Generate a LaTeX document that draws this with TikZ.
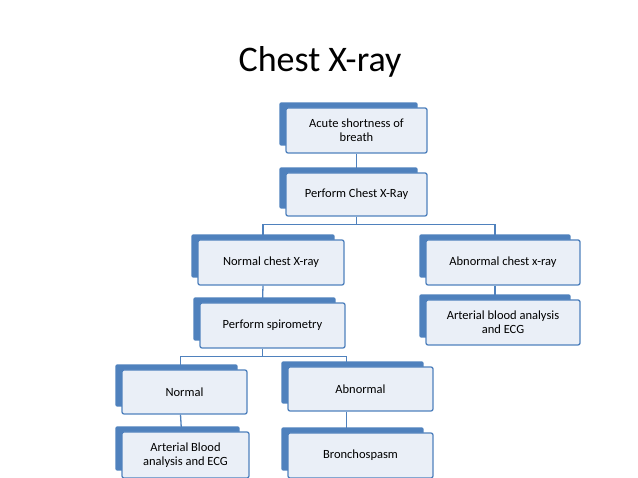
\documentclass[tikz,border=0pt]{standalone}
\usepackage{fontspec}
\setmainfont{Carlito}
\usetikzlibrary{backgrounds,calc}
\definecolor{bl}{HTML}{4F81BD}
\definecolor{lt}{HTML}{EAEFF7}
\tikzset{
 front/.style={draw=bl,line width=1.3pt,fill=lt,rounded corners=2pt,align=center,font=\fontsize{12.5}{14}\selectfont,inner sep=0pt},
 conn/.style={draw=bl,line width=1.3pt},
}
\newcommand{\bxx}[6]{%
 \node[front,minimum width=#4pt-#2pt,minimum height=#5pt-#3pt] (#1) at ({(#2+#4)/2},{(#3+#5)/2}) {#6};
 \begin{scope}[on background layer]
 \fill[bl,rounded corners=2pt] ($(#1.south west)+(-6pt,8pt)$) rectangle ($(#1.north east)+(-10pt,5pt)$);
 \end{scope}}
\begin{document}
\begin{tikzpicture}[x=1pt,y=-1pt]
\useasboundingbox (0,0) rectangle (638,478);
\node[font=\fontsize{36}{40}\selectfont] (title) at (320,62) {Chest X-ray};
\bxx{a}{286}{108}{427}{153}{Acute shortness of\\breath}
\bxx{b}{286}{173}{427}{216}{Perform Chest X-Ray}
\bxx{c}{198}{240}{344}{285}{Normal chest X-ray}
\bxx{d}{426}{240}{580}{285}{Abnormal chest x-ray}
\bxx{e}{200}{303}{345}{348}{Perform spirometry}
\bxx{f}{426}{300}{580}{345}{Arterial blood analysis\\and ECG}
\bxx{g}{122}{370}{247}{414}{Normal}
\bxx{h}{288}{367}{433}{411}{Abnormal}
\bxx{i}{122}{432}{249}{478}{Arterial Blood\\analysis and ECG}
\bxx{j}{288}{433}{433}{478}{Bronchospasm}
\begin{scope}[on background layer]
\draw[conn] (a.south) -- (b.north);
\draw[conn] (b.south) -- ++(0,8) -| ($(c.north)+(-8,0)$);
\draw[conn] (b.south) -- ++(0,8) -| ($(d.north)+(-8,0)$);
\draw[conn] ($(c.south)+(-8,0)$) -- ($(e.north)+(-10,0)$);
\draw[conn] ($(d.south)+(-8,0)$) -- ($(f.north)+(-8,0)$);
\draw[conn] ($(e.south)+(-10,0)$) -- ++(0,8) -| ($(g.north)+(-4,0)$);
\draw[conn] ($(e.south)+(-10,0)$) -- ++(0,8) -| ($(h.north)+(-14,0)$);
\draw[conn] ($(g.south)+(-4,0)$) -- ($(i.north)+(-4,0)$);
\draw[conn] ($(h.south)+(-14,0)$) -- ($(j.north)+(-14,0)$);
\end{scope}
\end{tikzpicture}
\end{document}
